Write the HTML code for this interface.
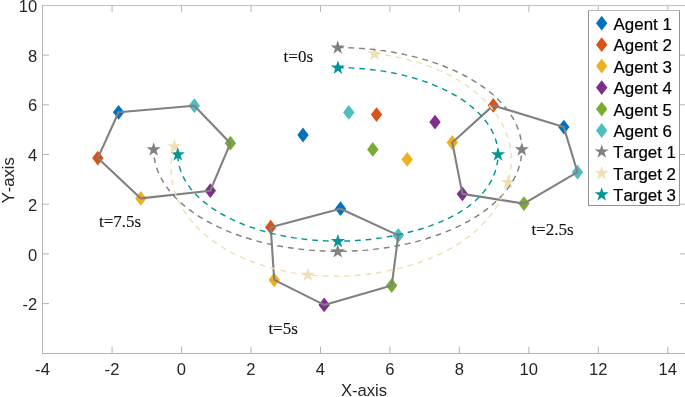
<!DOCTYPE html><html><head><meta charset="utf-8"><title>plot</title><style>html,body{margin:0;padding:0;background:#fff}svg{display:block}text{font-family:"Liberation Sans",Arial,sans-serif;fill:#262626;font-kerning:none}.s{font-family:"Liberation Serif","Times New Roman",serif;fill:#111;stroke:#111;stroke-width:.12px}.l{fill:#000;stroke:#000;stroke-width:.2px}</style></head><body>
<svg width="685" height="397" viewBox="0 0 685 397">
<rect width="685" height="397" fill="#fff"/>
<g stroke="#b4b4b4" stroke-width="1" fill="none" shape-rendering="crispEdges">
<path d="M42.5 5.3V353.2H686"/>
<path d="M42.5 5.3H686" stroke="#c2c2c2"/>
</g>
<g stroke="#b4b4b4" stroke-width="1" fill="none">
<path d="M112.09 353.2V346.6M112.09 5.3V11.9"/>
<path d="M181.55 353.2V346.6M181.55 5.3V11.9"/>
<path d="M251.01 353.2V346.6M251.01 5.3V11.9"/>
<path d="M320.47 353.2V346.6M320.47 5.3V11.9"/>
<path d="M389.93 353.2V346.6M389.93 5.3V11.9"/>
<path d="M459.39 353.2V346.6M459.39 5.3V11.9"/>
<path d="M528.85 353.2V346.6M528.85 5.3V11.9"/>
<path d="M598.31 353.2V346.6M598.31 5.3V11.9"/>
<path d="M667.77 353.2V346.6M667.77 5.3V11.9"/>
<path d="M42.5 303.60H49.1M686.4 303.60H679.8"/>
<path d="M42.5 253.90H49.1M686.4 253.90H679.8"/>
<path d="M42.5 204.20H49.1M686.4 204.20H679.8"/>
<path d="M42.5 154.50H49.1M686.4 154.50H679.8"/>
<path d="M42.5 104.80H49.1M686.4 104.80H679.8"/>
<path d="M42.5 55.10H49.1M686.4 55.10H679.8"/>
</g>
<text x="42.5" y="375.2" font-size="16.6" text-anchor="middle">-4</text>
<text x="112.0" y="375.2" font-size="16.6" text-anchor="middle">-2</text>
<text x="181.4" y="375.2" font-size="16.6" text-anchor="middle">0</text>
<text x="250.9" y="375.2" font-size="16.6" text-anchor="middle">2</text>
<text x="320.4" y="375.2" font-size="16.6" text-anchor="middle">4</text>
<text x="389.8" y="375.2" font-size="16.6" text-anchor="middle">6</text>
<text x="459.3" y="375.2" font-size="16.6" text-anchor="middle">8</text>
<text x="528.8" y="375.2" font-size="16.6" text-anchor="middle">10</text>
<text x="598.2" y="375.2" font-size="16.6" text-anchor="middle">12</text>
<text x="667.7" y="375.2" font-size="16.6" text-anchor="middle">14</text>
<text x="37.3" y="310.2" font-size="16.6" text-anchor="end">-2</text>
<text x="37.3" y="260.5" font-size="16.6" text-anchor="end">0</text>
<text x="37.3" y="210.8" font-size="16.6" text-anchor="end">2</text>
<text x="37.3" y="161.1" font-size="16.6" text-anchor="end">4</text>
<text x="37.3" y="111.4" font-size="16.6" text-anchor="end">6</text>
<text x="37.3" y="61.7" font-size="16.6" text-anchor="end">8</text>
<text x="37.3" y="12.0" font-size="16.6" text-anchor="end">10</text>
<text x="364" y="396.4" font-size="16.6" text-anchor="middle">X-axis</text>
<text transform="translate(13.7,180.3) rotate(-90)" font-size="16.6" text-anchor="middle">Y-axis</text>
<path d="M303.0 127.6L308.7 135.0L303.0 142.4L297.3 135.0Z" fill="#0072BD"/>
<path d="M118.6 104.9L124.3 112.3L118.6 119.7L112.9 112.3Z" fill="#0072BD"/>
<path d="M563.8 119.7L569.5 127.1L563.8 134.5L558.1 127.1Z" fill="#0072BD"/>
<path d="M340.5 201.3L346.2 208.7L340.5 216.1L334.8 208.7Z" fill="#0072BD"/>
<path d="M376.5 107.2L382.2 114.6L376.5 122.0L370.8 114.6Z" fill="#D95319"/>
<path d="M97.8 150.7L103.5 158.1L97.8 165.5L92.1 158.1Z" fill="#D95319"/>
<path d="M493.3 98.0L499.0 105.4L493.3 112.8L487.6 105.4Z" fill="#D95319"/>
<path d="M270.7 219.8L276.4 227.2L270.7 234.6L265.0 227.2Z" fill="#D95319"/>
<path d="M407.2 152.0L412.9 159.4L407.2 166.8L401.5 159.4Z" fill="#EDB120"/>
<path d="M140.8 191.0L146.5 198.4L140.8 205.8L135.1 198.4Z" fill="#EDB120"/>
<path d="M452.3 135.1L458.0 142.5L452.3 149.9L446.6 142.5Z" fill="#EDB120"/>
<path d="M274.2 272.5L279.9 279.9L274.2 287.3L268.5 279.9Z" fill="#EDB120"/>
<path d="M435.0 114.7L440.7 122.1L435.0 129.5L429.3 122.1Z" fill="#7E2F8E"/>
<path d="M210.3 183.3L216.0 190.7L210.3 198.1L204.6 190.7Z" fill="#7E2F8E"/>
<path d="M462.4 186.5L468.1 193.9L462.4 201.3L456.7 193.9Z" fill="#7E2F8E"/>
<path d="M324.2 297.5L329.9 304.9L324.2 312.3L318.5 304.9Z" fill="#7E2F8E"/>
<path d="M372.8 142.0L378.5 149.4L372.8 156.8L367.1 149.4Z" fill="#77AC30"/>
<path d="M230.4 135.8L236.1 143.2L230.4 150.6L224.7 143.2Z" fill="#77AC30"/>
<path d="M523.9 196.2L529.6 203.6L523.9 211.0L518.2 203.6Z" fill="#77AC30"/>
<path d="M391.7 278.2L397.4 285.6L391.7 293.0L386.0 285.6Z" fill="#77AC30"/>
<path d="M348.8 105.0L354.5 112.4L348.8 119.8L343.1 112.4Z" fill="#4DBEBE"/>
<path d="M194.3 98.3L200.0 105.7L194.3 113.1L188.6 105.7Z" fill="#4DBEBE"/>
<path d="M577.5 164.8L583.2 172.2L577.5 179.6L571.8 172.2Z" fill="#4DBEBE"/>
<path d="M398.3 228.0L404.0 235.4L398.3 242.8L392.6 235.4Z" fill="#4DBEBE"/>
<path d="M118.6 112.3L194.3 105.7L230.4 143.2L210.3 190.7L140.8 198.4L97.8 158.1Z" fill="none" stroke="#808080" stroke-width="2.1" stroke-linejoin="round"/>
<path d="M493.3 105.4L563.8 127.1L577.5 172.2L523.9 203.6L462.4 193.9L452.3 142.5Z" fill="none" stroke="#808080" stroke-width="2.1" stroke-linejoin="round"/>
<path d="M340.5 208.7L398.3 235.4L391.7 285.6L324.2 304.9L274.2 279.9L270.7 227.2Z" fill="none" stroke="#808080" stroke-width="2.1" stroke-linejoin="round"/>
<path d="M337.74 40.24L339.42 45.43L344.87 45.43L340.46 48.63L342.14 53.81L337.74 50.61L333.33 53.81L335.01 48.63L330.60 45.43L336.05 45.43Z" fill="#808080"/>
<path d="M521.80 142.13L523.49 147.31L528.94 147.31L524.53 150.52L526.21 155.70L521.80 152.50L517.40 155.70L519.08 150.52L514.67 147.31L520.12 147.31Z" fill="#808080"/>
<path d="M337.74 244.01L339.42 249.20L344.87 249.20L340.46 252.40L342.14 257.58L337.74 254.38L333.33 257.58L335.01 252.40L330.60 249.20L336.05 249.20Z" fill="#808080"/>
<path d="M153.67 142.13L155.35 147.31L160.80 147.31L156.39 150.52L158.07 155.70L153.67 152.50L149.26 155.70L150.94 150.52L146.53 147.31L151.98 147.31Z" fill="#808080"/>
<path d="M374.55 46.33L376.23 51.52L381.68 51.52L377.27 54.72L378.96 59.90L374.55 56.70L370.14 59.90L371.82 54.72L367.42 51.52L372.86 51.52Z" fill="#F0DFB4"/>
<path d="M508.09 174.81L509.77 179.99L515.22 179.99L510.81 183.19L512.49 188.38L508.09 185.17L503.68 188.38L505.36 183.19L500.95 179.99L506.40 179.99Z" fill="#F0DFB4"/>
<path d="M307.87 267.50L309.55 272.68L315.00 272.68L310.59 275.88L312.28 281.07L307.87 277.86L303.46 281.07L305.14 275.88L300.73 272.68L306.18 272.68Z" fill="#F0DFB4"/>
<path d="M174.33 139.02L176.01 144.21L181.46 144.21L177.06 147.41L178.74 152.59L174.33 149.39L169.92 152.59L171.61 147.41L167.20 144.21L172.65 144.21Z" fill="#F0DFB4"/>
<path d="M337.91 60.37L339.59 65.56L345.04 65.56L340.63 68.76L342.32 73.94L337.91 70.74L333.50 73.94L335.18 68.76L330.78 65.56L336.22 65.56Z" fill="#009696"/>
<path d="M498.01 147.10L499.70 152.28L505.15 152.28L500.74 155.49L502.42 160.67L498.01 157.47L493.61 160.67L495.29 155.49L490.88 152.28L496.33 152.28Z" fill="#009696"/>
<path d="M337.91 233.83L339.59 239.01L345.04 239.01L340.63 242.21L342.32 247.39L337.91 244.19L333.50 247.39L335.18 242.21L330.78 239.01L336.22 239.01Z" fill="#009696"/>
<path d="M177.80 147.10L179.49 152.28L184.94 152.28L180.53 155.49L182.21 160.67L177.80 157.47L173.39 160.67L175.08 155.49L170.67 152.28L176.12 152.28Z" fill="#009696"/>
<path d="M337.7 47.5L341.3 47.6L345.0 47.6L348.6 47.7L352.2 47.9L355.8 48.0L359.4 48.3L363.0 48.5L366.5 48.8L370.1 49.1L373.6 49.5L377.2 49.9L380.7 50.4L384.2 50.8L387.7 51.4L391.2 51.9L394.6 52.5L398.0 53.2L401.4 53.8L404.8 54.6L408.2 55.3L411.5 56.1L414.8 56.9L418.1 57.8L421.3 58.6L424.5 59.6L427.7 60.5L430.8 61.5L433.9 62.6L437.0 63.6L440.0 64.7L443.0 65.8L445.9 67.0L448.8 68.2L451.7 69.4L454.5 70.7L457.3 72.0L460.0 73.3L462.7 74.6L465.3 76.0L467.9 77.4L470.4 78.8L472.9 80.3L475.3 81.8L477.7 83.3L480.0 84.8L482.3 86.4L484.5 87.9L486.6 89.5L488.7 91.2L490.8 92.8L492.8 94.5L494.7 96.2L496.5 97.9L498.3 99.6L500.1 101.4L501.7 103.2L503.4 105.0L504.9 106.8L506.4 108.6L507.8 110.4L509.1 112.3L510.4 114.2L511.6 116.0L512.8 117.9L513.9 119.9L514.9 121.8L515.8 123.7L516.7 125.6L517.5 127.6L518.3 129.6L518.9 131.5L519.5 133.5L520.1 135.5L520.5 137.5L520.9 139.4L521.2 141.4L521.5 143.4L521.7 145.4L521.8 147.4L521.8 149.4L521.8 151.4L521.7 153.4L521.5 155.4L521.2 157.4L520.9 159.4L520.5 161.4L520.1 163.4L519.5 165.4L518.9 167.3L518.3 169.3L517.5 171.3L516.7 173.2L515.8 175.2L514.9 177.1L513.9 179.0L512.8 180.9L511.6 182.8L510.4 184.7L509.1 186.6L507.8 188.4L506.4 190.3L504.9 192.1L503.4 193.9L501.7 195.7L500.1 197.5L498.3 199.2L496.5 200.9L494.7 202.7L492.8 204.4L490.8 206.0L488.7 207.7L486.6 209.3L484.5 210.9L482.3 212.5L480.0 214.1L477.7 215.6L475.3 217.1L472.9 218.6L470.4 220.0L467.9 221.5L465.3 222.9L462.7 224.2L460.0 225.6L457.3 226.9L454.5 228.2L451.7 229.4L448.8 230.7L445.9 231.9L443.0 233.0L440.0 234.1L437.0 235.2L433.9 236.3L430.8 237.3L427.7 238.3L424.5 239.3L421.3 240.2L418.1 241.1L414.8 242.0L411.5 242.8L408.2 243.6L404.8 244.3L401.4 245.0L398.0 245.7L394.6 246.3L391.2 246.9L387.7 247.5L384.2 248.0L380.7 248.5L377.2 248.9L373.6 249.4L370.1 249.7L366.5 250.1L363.0 250.4L359.4 250.6L355.8 250.8L352.2 251.0L348.6 251.1L345.0 251.2L341.3 251.3L337.7 251.3L334.1 251.3L330.5 251.2L326.9 251.1L323.3 251.0L319.7 250.8L316.1 250.6L312.5 250.4L308.9 250.1L305.4 249.7L301.8 249.4L298.3 248.9L294.8 248.5L291.3 248.0L287.8 247.5L284.3 246.9L280.9 246.3L277.4 245.7L274.0 245.0L270.6 244.3L267.3 243.6L264.0 242.8L260.7 242.0L257.4 241.1L254.2 240.2L251.0 239.3L247.8 238.3L244.7 237.3L241.6 236.3L238.5 235.2L235.5 234.1L232.5 233.0L229.5 231.9L226.6 230.7L223.8 229.4L221.0 228.2L218.2 226.9L215.5 225.6L212.8 224.2L210.2 222.9L207.6 221.5L205.0 220.0L202.6 218.6L200.1 217.1L197.8 215.6L195.4 214.1L193.2 212.5L191.0 210.9L188.8 209.3L186.7 207.7L184.7 206.0L182.7 204.4L180.8 202.7L178.9 200.9L177.1 199.2L175.4 197.5L173.7 195.7L172.1 193.9L170.6 192.1L169.1 190.3L167.7 188.4L166.3 186.6L165.0 184.7L163.8 182.8L162.7 180.9L161.6 179.0L160.6 177.1L159.6 175.2L158.8 173.2L157.9 171.3L157.2 169.3L156.5 167.3L155.9 165.4L155.4 163.4L154.9 161.4L154.6 159.4L154.2 157.4L154.0 155.4L153.8 153.4L153.7 151.4L153.7 149.4" fill="none" stroke="#808080" stroke-width="1.45" stroke-dasharray="5.8 4.9"/>
<path d="M374.5 53.6L377.8 54.0L381.1 54.4L384.3 54.9L387.5 55.4L390.7 55.9L393.9 56.5L397.1 57.1L400.2 57.8L403.4 58.5L406.5 59.2L409.5 60.0L412.6 60.9L415.6 61.7L418.6 62.6L421.6 63.6L424.5 64.6L427.4 65.6L430.2 66.7L433.1 67.8L435.9 68.9L438.6 70.1L441.4 71.3L444.0 72.5L446.7 73.8L449.3 75.1L451.8 76.5L454.4 77.9L456.8 79.3L459.3 80.7L461.6 82.2L464.0 83.7L466.3 85.3L468.5 86.8L470.7 88.5L472.8 90.1L474.9 91.7L477.0 93.4L479.0 95.2L480.9 96.9L482.8 98.7L484.6 100.5L486.4 102.3L488.1 104.1L489.8 106.0L491.4 107.9L492.9 109.8L494.4 111.7L495.8 113.7L497.2 115.7L498.5 117.7L499.7 119.7L500.9 121.7L502.0 123.7L503.1 125.8L504.1 127.9L505.0 130.0L505.9 132.1L506.7 134.2L507.5 136.3L508.1 138.4L508.8 140.6L509.3 142.7L509.8 144.9L510.2 147.1L510.6 149.2L510.9 151.4L511.1 153.6L511.3 155.8L511.4 158.0L511.4 160.2L511.3 162.4L511.2 164.6L511.1 166.8L510.8 169.0L510.6 171.2L510.2 173.4L509.8 175.6L509.3 177.8L508.7 179.9L508.1 182.1L507.4 184.3L506.7 186.4L505.9 188.6L505.0 190.7L504.1 192.9L503.1 195.0L502.1 197.2L501.0 199.3L499.8 201.4L498.6 203.5L497.3 205.6L496.0 207.6L494.6 209.7L493.1 211.7L491.6 213.8L490.1 215.8L488.4 217.8L486.7 219.7L485.0 221.7L483.2 223.6L481.3 225.5L479.4 227.4L477.4 229.3L475.4 231.1L473.3 232.9L471.2 234.7L469.0 236.4L466.7 238.1L464.4 239.8L462.1 241.4L459.7 243.0L457.2 244.6L454.7 246.2L452.2 247.7L449.6 249.1L446.9 250.5L444.3 251.9L441.6 253.3L438.8 254.6L436.0 255.9L433.2 257.1L430.3 258.3L427.4 259.5L424.5 260.6L421.5 261.6L418.5 262.7L415.5 263.7L412.5 264.6L409.4 265.6L406.3 266.5L403.2 267.3L400.0 268.1L396.9 268.9L393.7 269.6L390.5 270.3L387.3 271.0L384.1 271.6L380.8 272.2L377.5 272.7L374.3 273.2L371.0 273.7L367.7 274.2L364.4 274.6L361.1 274.9L357.7 275.2L354.4 275.5L351.1 275.7L347.7 275.9L344.4 276.1L341.1 276.2L337.7 276.2L334.4 276.2L331.0 276.2L327.7 276.1L324.4 276.0L321.1 275.9L317.7 275.7L314.4 275.4L311.2 275.1L307.9 274.8L304.6 274.4L301.3 274.0L298.1 273.6L294.9 273.1L291.7 272.5L288.5 271.9L285.3 271.3L282.2 270.6L279.0 269.9L276.0 269.2L272.9 268.4L269.8 267.6L266.8 266.7L263.8 265.8L260.9 264.8L257.9 263.9L255.0 262.8L252.2 261.8L249.3 260.7L246.5 259.5L243.8 258.4L241.1 257.1L238.4 255.9L235.7 254.6L233.1 253.3L230.6 252.0L228.1 250.6L225.6 249.2L223.2 247.7L220.8 246.2L218.4 244.7L216.1 243.2L213.9 241.6L211.7 240.0L209.6 238.3L207.5 236.7L205.4 235.0L203.4 233.3L201.5 231.5L199.6 229.8L197.8 228.0L196.0 226.1L194.3 224.3L192.7 222.4L191.1 220.5L189.5 218.6L188.0 216.7L186.6 214.7L185.2 212.8L183.9 210.8L182.7 208.8L181.5 206.7L180.4 204.7L179.3 202.6L178.3 200.6L177.4 198.5L176.5 196.4L175.7 194.3L175.0 192.1L174.3 190.0L173.7 187.9L173.1 185.7L172.6 183.5L172.2 181.4L171.8 179.2L171.5 177.0L171.3 174.8L171.2 172.6L171.1 170.4L171.0 168.2L171.1 166.0L171.2 163.8L171.3 161.6L171.6 159.4L171.9 157.2L172.2 155.1L172.7 152.9L173.2 150.7L173.7 148.5L174.3 146.3" fill="none" stroke="#F0DFB4" stroke-width="1.45" stroke-dasharray="5.8 4.9"/>
<path d="M337.9 67.7L341.1 67.7L344.2 67.7L347.3 67.8L350.5 67.9L353.6 68.1L356.7 68.3L359.8 68.5L363.0 68.7L366.1 69.0L369.1 69.3L372.2 69.7L375.3 70.1L378.3 70.5L381.4 70.9L384.4 71.4L387.4 71.9L390.4 72.5L393.3 73.0L396.3 73.6L399.2 74.3L402.1 74.9L404.9 75.6L407.8 76.4L410.6 77.1L413.4 77.9L416.1 78.7L418.9 79.6L421.6 80.5L424.2 81.4L426.9 82.3L429.5 83.2L432.0 84.2L434.5 85.3L437.0 86.3L439.5 87.4L441.9 88.5L444.3 89.6L446.6 90.7L448.9 91.9L451.1 93.1L453.3 94.3L455.5 95.5L457.6 96.8L459.7 98.1L461.7 99.4L463.6 100.7L465.6 102.1L467.4 103.4L469.3 104.8L471.0 106.2L472.8 107.6L474.4 109.1L476.0 110.5L477.6 112.0L479.1 113.5L480.6 115.0L482.0 116.6L483.3 118.1L484.6 119.6L485.8 121.2L487.0 122.8L488.1 124.4L489.2 126.0L490.2 127.6L491.1 129.2L492.0 130.9L492.8 132.5L493.6 134.2L494.3 135.8L494.9 137.5L495.5 139.2L496.0 140.8L496.5 142.5L496.9 144.2L497.2 145.9L497.5 147.6L497.7 149.3L497.9 151.0L498.0 152.7L498.0 154.4L498.0 156.1L497.9 157.8L497.8 159.5L497.6 161.2L497.3 162.9L497.0 164.6L496.7 166.3L496.3 168.0L495.8 169.7L495.2 171.4L494.7 173.1L494.0 174.8L493.3 176.5L492.5 178.2L491.7 179.9L490.8 181.6L489.9 183.2L488.8 184.9L487.8 186.6L486.6 188.2L485.4 189.8L484.2 191.4L482.8 193.0L481.5 194.6L480.0 196.2L478.5 197.7L476.9 199.2L475.3 200.7L473.6 202.2L471.9 203.7L470.1 205.1L468.3 206.5L466.4 207.9L464.4 209.2L462.4 210.5L460.4 211.8L458.3 213.1L456.1 214.3L453.9 215.5L451.7 216.7L449.4 217.9L447.0 219.0L444.7 220.1L442.3 221.2L439.8 222.2L437.3 223.2L434.8 224.2L432.2 225.1L429.6 226.1L427.0 227.0L424.4 227.8L421.7 228.7L419.0 229.5L416.2 230.3L413.4 231.1L410.6 231.8L407.8 232.5L405.0 233.2L402.1 233.9L399.2 234.5L396.3 235.2L393.3 235.8L390.4 236.3L387.4 236.9L384.4 237.4L381.4 237.9L378.3 238.3L375.3 238.7L372.2 239.1L369.1 239.5L366.1 239.8L363.0 240.1L359.8 240.3L356.7 240.5L353.6 240.7L350.5 240.9L347.3 241.0L344.2 241.1L341.1 241.1L337.9 241.1L334.8 241.1L331.6 241.1L328.5 241.0L325.3 240.9L322.2 240.7L319.1 240.5L316.0 240.3L312.9 240.1L309.8 239.8L306.7 239.5L303.6 239.1L300.5 238.7L297.5 238.3L294.4 237.9L291.4 237.4L288.4 236.9L285.5 236.3L282.5 235.8L279.6 235.2L276.6 234.5L273.7 233.9L270.9 233.2L268.0 232.4L265.2 231.7L262.4 230.9L259.7 230.1L257.0 229.2L254.3 228.3L251.6 227.4L249.0 226.5L246.4 225.6L243.8 224.6L241.3 223.5L238.8 222.5L236.3 221.4L233.9 220.3L231.6 219.2L229.2 218.1L226.9 216.9L224.7 215.7L222.5 214.5L220.3 213.3L218.2 212.0L216.2 210.7L214.1 209.4L212.2 208.1L210.3 206.7L208.4 205.4L206.6 204.0L204.8 202.6L203.1 201.2L201.4 199.7L199.8 198.3L198.2 196.8L196.7 195.3L195.3 193.8L193.9 192.2L192.5 190.7L191.2 189.2L190.0 187.6L188.8 186.0L187.7 184.4L186.6 182.8L185.6 181.2L184.7 179.6L183.8 177.9L183.0 176.3L182.2 174.6L181.5 173.0L180.9 171.3L180.3 169.6L179.8 168.0L179.3 166.3L178.9 164.6L178.6 162.9L178.3 161.2L178.1 159.5L177.9 157.8L177.8 156.1L177.8 154.4" fill="none" stroke="#009696" stroke-width="1.45" stroke-dasharray="5.8 4.9"/>
<text class="s" x="283.6" y="61.9" font-size="17.5" textLength="29.4" lengthAdjust="spacingAndGlyphs">t=0s</text>
<text class="s" x="99" y="227.3" font-size="17.5" textLength="42.1" lengthAdjust="spacingAndGlyphs">t=7.5s</text>
<text class="s" x="268.4" y="333.7" font-size="17.5" textLength="29.4" lengthAdjust="spacingAndGlyphs">t=5s</text>
<text class="s" x="531.4" y="234.6" font-size="17.5" textLength="42.1" lengthAdjust="spacingAndGlyphs">t=2.5s</text>
<rect x="588.5" y="10.5" width="91" height="195" fill="#fff" stroke="none"/>
<path d="M588.5 10.5V205.5H679.5V10.5" fill="none" stroke="#939393" stroke-width="1" shape-rendering="crispEdges"/>
<path d="M588 10.5H680" fill="none" stroke="#b8b8b8" stroke-width="1" shape-rendering="crispEdges"/>
<path d="M601.7 15.8L607.4 23.2L601.7 30.6L596.0 23.2Z" fill="#0072BD"/>
<text x="613.6" y="29.6" font-size="16.9" class="l">Agent 1</text>
<path d="M601.7 37.3L607.4 44.7L601.7 52.1L596.0 44.7Z" fill="#D95319"/>
<text x="613.6" y="51.1" font-size="16.9" class="l">Agent 2</text>
<path d="M601.7 58.7L607.4 66.1L601.7 73.5L596.0 66.1Z" fill="#EDB120"/>
<text x="613.6" y="72.5" font-size="16.9" class="l">Agent 3</text>
<path d="M601.7 80.2L607.4 87.6L601.7 95.0L596.0 87.6Z" fill="#7E2F8E"/>
<text x="613.6" y="94.0" font-size="16.9" class="l">Agent 4</text>
<path d="M601.7 101.7L607.4 109.1L601.7 116.5L596.0 109.1Z" fill="#77AC30"/>
<text x="613.6" y="115.5" font-size="16.9" class="l">Agent 5</text>
<path d="M601.7 123.1L607.4 130.5L601.7 137.9L596.0 130.5Z" fill="#4DBEBE"/>
<text x="613.6" y="136.9" font-size="16.9" class="l">Agent 6</text>
<path d="M601.70 144.32L603.36 149.43L608.74 149.43L604.39 152.59L606.05 157.71L601.70 154.55L597.35 157.71L599.01 152.59L594.66 149.43L600.04 149.43Z" fill="#808080"/>
<text x="613.1" y="158.4" font-size="16.9" class="l">Target 1</text>
<path d="M601.70 165.79L603.36 170.90L608.74 170.90L604.39 174.06L606.05 179.18L601.70 176.02L597.35 179.18L599.01 174.06L594.66 170.90L600.04 170.90Z" fill="#F0DFB4"/>
<text x="613.1" y="179.9" font-size="16.9" class="l">Target 2</text>
<path d="M601.70 187.26L603.36 192.37L608.74 192.37L604.39 195.53L606.05 200.65L601.70 197.49L597.35 200.65L599.01 195.53L594.66 192.37L600.04 192.37Z" fill="#009696"/>
<text x="613.1" y="201.4" font-size="16.9" class="l">Target 3</text>
</svg></body></html>
